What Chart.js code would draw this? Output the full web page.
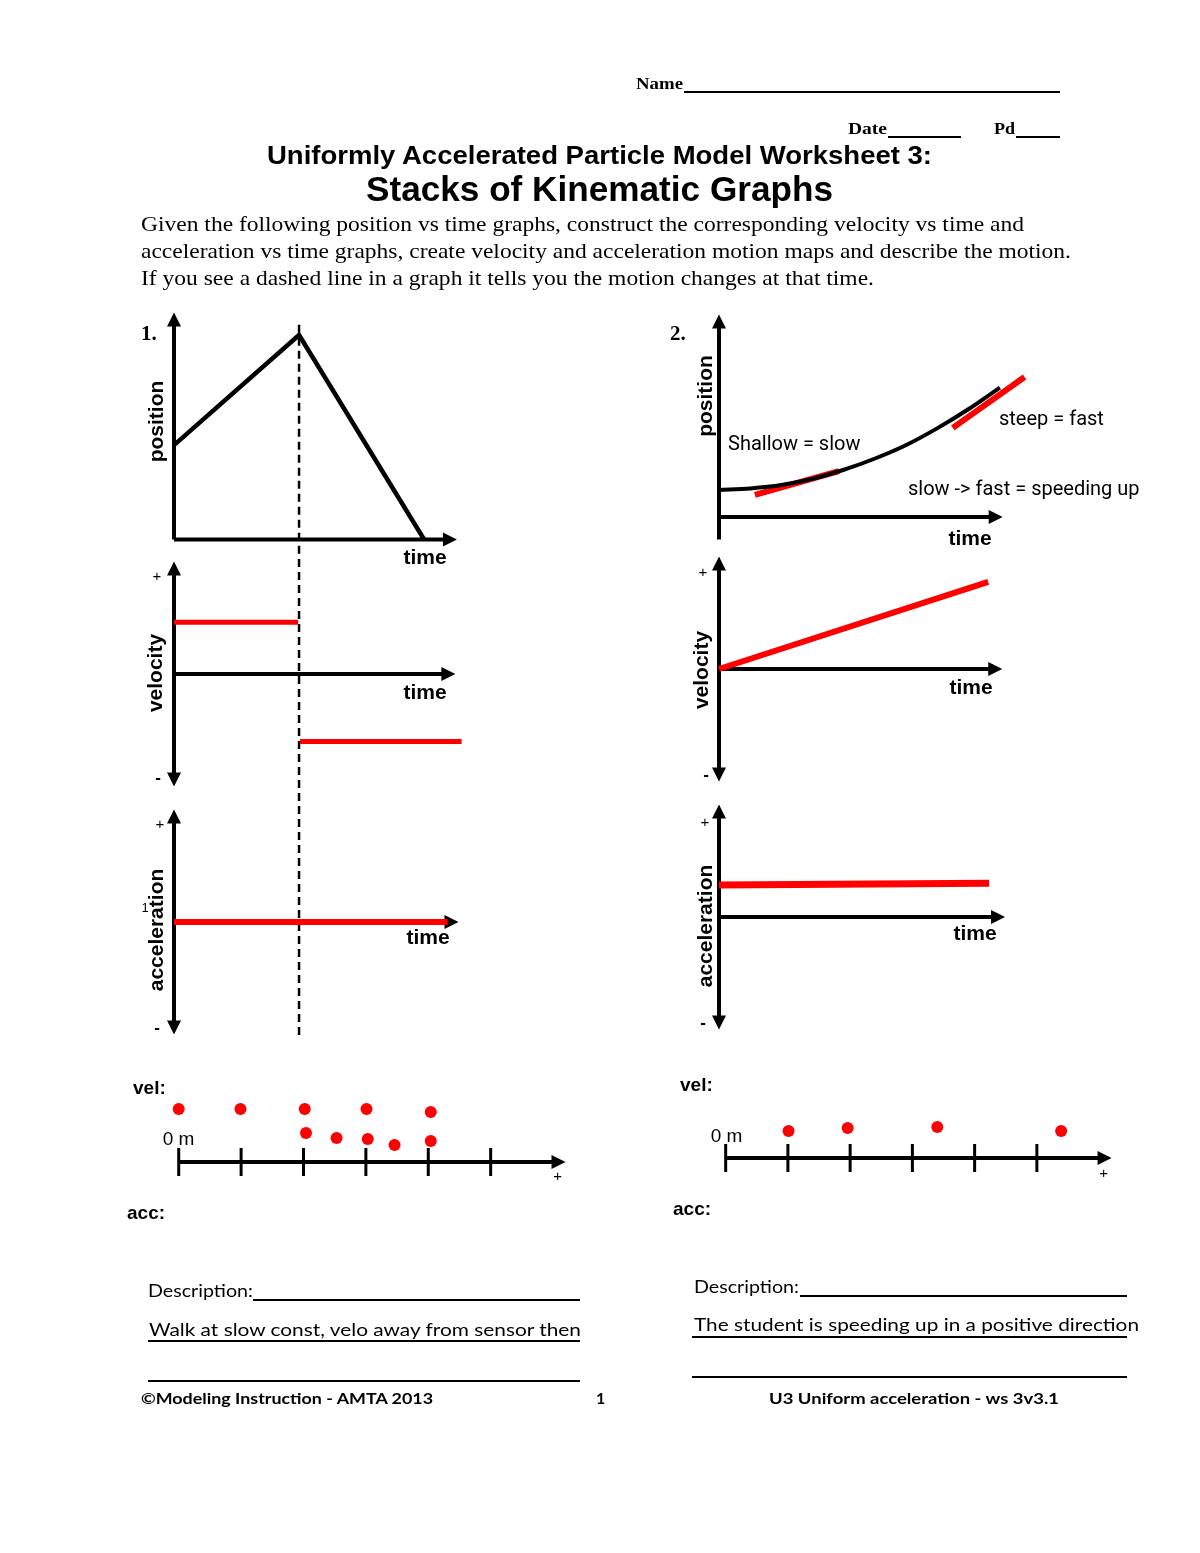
<!DOCTYPE html>
<html><head><meta charset="utf-8">
<script src="https://cdn.jsdelivr.net/npm/chart.js@4.4.1/dist/chart.umd.min.js"></script>
<style>
html,body{margin:0;padding:0;background:#fff;}
#page{position:relative;width:1200px;height:1553px;overflow:hidden;background:#fff;}
#page canvas{position:absolute;}
#txt{position:absolute;left:0;top:0;pointer-events:none;}
</style></head>
<body><div id="page">
<svg id="txt" width="1200" height="1553" xmlns="http://www.w3.org/2000/svg">
  <g font-family="'Liberation Serif', serif" font-weight="bold" font-size="16" fill="#000">
    <text x="636" y="89" textLength="47" lengthAdjust="spacingAndGlyphs">Name</text>
    <text x="848" y="134" textLength="39" lengthAdjust="spacingAndGlyphs">Date</text>
    <text x="994" y="134" textLength="21" lengthAdjust="spacingAndGlyphs">Pd</text>
  </g>
  <g stroke="#000" stroke-width="2">
    <line x1="684" y1="92" x2="1060" y2="92"/>
    <line x1="888" y1="137" x2="961" y2="137"/>
    <line x1="1016" y1="137" x2="1060" y2="137"/>
  </g>
  <g font-family="'Liberation Sans', Arial, sans-serif" font-weight="bold" fill="#000">
    <text x="267" y="164" font-size="25" textLength="665" lengthAdjust="spacingAndGlyphs">Uniformly Accelerated Particle Model Worksheet 3:</text>
    <text x="366" y="201" font-size="35" textLength="467" lengthAdjust="spacingAndGlyphs">Stacks of Kinematic Graphs</text>
  </g>
  <g font-family="'Liberation Serif', serif" font-size="21" fill="#000">
    <text x="141" y="231" textLength="883" lengthAdjust="spacingAndGlyphs">Given the following position vs time graphs, construct the corresponding velocity vs time and</text>
    <text x="141" y="258" textLength="930" lengthAdjust="spacingAndGlyphs">acceleration vs time graphs, create velocity and acceleration motion maps and describe the motion.</text>
    <text x="141" y="285" textLength="733" lengthAdjust="spacingAndGlyphs">If you see a dashed line in a graph it tells you the motion changes at that time.</text>
  </g>
  <g font-family="'Liberation Sans', Arial, sans-serif" font-weight="bold" font-size="19" fill="#000">
    <text x="133" y="1094">vel:</text>
    <text x="127" y="1219">acc:</text>
    <text x="680" y="1091">vel:</text>
    <text x="673" y="1215">acc:</text>
  </g>
  <g font-family="Lato, 'Open Sans', sans-serif" font-size="18" fill="#000">
    <text x="148" y="1297" textLength="105" lengthAdjust="spacingAndGlyphs">Description:</text>
    <text x="149" y="1336" textLength="432" lengthAdjust="spacingAndGlyphs">Walk at slow const, velo away from sensor then</text>
    <text x="694" y="1293" textLength="105" lengthAdjust="spacingAndGlyphs">Description:</text>
    <text x="694" y="1331" textLength="445" lengthAdjust="spacingAndGlyphs">The student is speeding up in a positive direction</text>
  </g>
  <g stroke="#000" stroke-width="2">
    <line x1="253" y1="1300" x2="580" y2="1300"/>
    <line x1="148" y1="1341" x2="580" y2="1341"/>
    <line x1="148" y1="1381" x2="580" y2="1381"/>
    <line x1="800" y1="1296" x2="1127" y2="1296"/>
    <line x1="692" y1="1337" x2="1127" y2="1337"/>
    <line x1="692" y1="1377" x2="1127" y2="1377"/>
  </g>
  <g font-family="Lato, 'Open Sans', sans-serif" font-weight="bold" font-size="16" fill="#000">
    <text x="141" y="1404" textLength="292" lengthAdjust="spacingAndGlyphs">©Modeling Instruction - AMTA 2013</text>
    <text x="596" y="1404">1</text>
    <text x="769" y="1404" textLength="290" lengthAdjust="spacingAndGlyphs">U3 Uniform acceleration -  ws 3v3.1</text>
  </g>
</svg>
</div>
<script>
// ---------------- DATA ----------------
// Graph 1 (position vs time, then derived velocity & acceleration)
const g1Time = [0, 4, 8];
const g1Position = [4.2, 9.1, 0];
const g1VelTimeA = [0, 3.97];
const g1VelA = [2.3, 2.3];
const g1VelTimeB = [4.03, 9.2];
const g1VelB = [-3.0, -3.0];
const g1AccTime = [0, 8.75];
const g1Acc = [0, 0];
const changeTime = 4;
// Motion map 1 (positions in m, row height of each dot)
const map1Pos = [0, 0.99, 2.02, 3.01, 4.04, 2.04, 2.53, 3.03, 3.46, 4.04];
const map1Row = [5.3, 5.3, 5.3, 5.3, 5.0, 2.9, 2.4, 2.3, 1.7, 2.1];
const mapTicks = [0, 1, 2, 3, 4, 5];
// Graph 2 (curved position, tangents, velocity & acceleration)
const g2Time = [0, 1, 2, 3, 4, 5, 6, 7, 8, 9];
const g2Position = [1.2, 1.27, 1.42, 1.7, 2.1, 2.6, 3.2, 3.95, 4.8, 5.75];
const g2SlowTanTime = [1.15, 3.84];
const g2SlowTanPos = [0.98, 2.04];
const g2FastTanTime = [7.49, 9.79];
const g2FastTanPos = [3.96, 6.22];
const g2VelTime = [0, 8.61];
const g2Vel = [0, 3.87];
const g2AccTime = [0, 8.64];
const g2Acc = [1.42, 1.5];
// Motion map 2
const map2Pos = [1.01, 1.96, 3.40, 5.39];
const map2Row = [2.7, 3.0, 3.1, 2.7];

// ---------------- HELPERS ----------------
const RED = '#ff0000', BLACK = '#000000';
const page = document.getElementById('page');
const svgEl = document.getElementById('txt');
const AX = "bold 21px 'Liberation Sans', Arial, sans-serif";
const PM = "15px 'Liberation Sans', Arial, sans-serif";
const MN = "bold 17px 'Liberation Sans', Arial, sans-serif";

function line(xs, ys, color, width, extra) {
  return Object.assign({
    data: xs.map((x, i) => ({x: x, y: ys[i]})),
    showLine: true, borderColor: color, borderWidth: width,
    pointRadius: 0, fill: false, tension: 0, clip: false, borderCapStyle: 'butt'
  }, extra || {});
}
function dots(xs, ys) {
  return {
    data: xs.map((x, i) => ({x: x, y: ys[i]})),
    showLine: false, pointRadius: 6, pointBackgroundColor: RED,
    pointBorderWidth: 0, pointStyle: 'circle', clip: false
  };
}

function arrowLine(ctx, p0, p1, a0, a1) {
  const L = 14, H = 7;
  const dx = p1[0] - p0[0], dy = p1[1] - p0[1];
  const len = Math.hypot(dx, dy), ux = dx / len, uy = dy / len;
  const s = a0 ? [p0[0] + ux * (L - 1), p0[1] + uy * (L - 1)] : p0;
  const e = a1 ? [p1[0] - ux * (L - 1), p1[1] - uy * (L - 1)] : p1;
  ctx.beginPath(); ctx.moveTo(s[0], s[1]); ctx.lineTo(e[0], e[1]); ctx.stroke();
  const head = (tip, vx, vy) => {
    ctx.beginPath();
    ctx.moveTo(tip[0], tip[1]);
    ctx.lineTo(tip[0] - vx * L - vy * H, tip[1] - vy * L + vx * H);
    ctx.lineTo(tip[0] - vx * L + vy * H, tip[1] - vy * L - vx * H);
    ctx.closePath(); ctx.fill();
  };
  if (a1) head(p1, ux, uy);
  if (a0) head(p0, -ux, -uy);
}

function decoPlugin(deco, canvasTop) {
  return {
    id: 'deco',
    beforeDatasetsDraw(chart) {
      const ctx = chart.ctx, xs = chart.scales.x, ys = chart.scales.y;
      const P = (x, y) => [xs.getPixelForValue(x), ys.getPixelForValue(y)];
      ctx.save();
      ctx.strokeStyle = BLACK; ctx.fillStyle = BLACK;
      if (deco.dashed) {
        const d = deco.dashed;
        const a = P(d.x, d.y1), b = P(d.x, d.y2);
        ctx.lineWidth = 2.5;
        ctx.setLineDash([8, 5]);
        ctx.lineDashOffset = (canvasTop + a[1]) % 13;
        ctx.beginPath(); ctx.moveTo(a[0], a[1]); ctx.lineTo(b[0], b[1]); ctx.stroke();
        ctx.setLineDash([]);
      }
      ctx.lineWidth = 4; ctx.lineCap = 'butt';
      (deco.axes || []).forEach(a => arrowLine(ctx, P(a.from[0], a.from[1]), P(a.to[0], a.to[1]), a.a0, a.a1));
      if (deco.ticks) {
        ctx.lineWidth = 3;
        deco.ticks.at.forEach(v => {
          const p = P(v, 0);
          ctx.beginPath(); ctx.moveTo(p[0], p[1] - deco.ticks.half); ctx.lineTo(p[0], p[1] + deco.ticks.half); ctx.stroke();
        });
      }
      ctx.restore();
    },
    afterDatasetsDraw(chart) {
      const ctx = chart.ctx, xs = chart.scales.x, ys = chart.scales.y;
      const ox = xs.getPixelForValue(0), oy = ys.getPixelForValue(0);
      ctx.save();
      ctx.fillStyle = BLACK;
      (deco.labels || []).forEach(l => {
        ctx.save();
        ctx.font = l.font;
        ctx.textAlign = l.align || 'center';
        ctx.textBaseline = l.base || 'alphabetic';
        ctx.translate(ox + l.dx, oy + l.dy);
        if (l.rot) ctx.rotate(-Math.PI / 2);
        ctx.fillText(l.text, 0, 0);
        ctx.restore();
      });
      ctx.restore();
    }
  };
}

function makeChart(geo, datasets, deco) {
  const pad = geo.pad || {left: 50, right: 40, top: 24, bottom: 36};
  const cw = (geo.xmax - geo.xmin) * geo.sx, ch = (geo.ymax - geo.ymin) * geo.sy;
  const canvas = document.createElement('canvas');
  const W = Math.round(cw + pad.left + pad.right), Hh = Math.round(ch + pad.top + pad.bottom);
  canvas.width = W; canvas.height = Hh;
  canvas.style.width = W + 'px'; canvas.style.height = Hh + 'px';
  const left = geo.ox + geo.xmin * geo.sx - pad.left;
  const top = geo.oy - geo.ymax * geo.sy - pad.top;
  canvas.style.left = left + 'px'; canvas.style.top = top + 'px';
  page.insertBefore(canvas, svgEl);
  return new Chart(canvas, {
    type: 'scatter',
    data: {datasets: datasets},
    options: {
      responsive: false, animation: false, events: [],
      layout: {padding: pad},
      plugins: {legend: {display: false}, tooltip: {enabled: false}, title: {display: false}},
      scales: {
        x: {type: 'linear', min: geo.xmin, max: geo.xmax, display: false},
        y: {type: 'linear', min: geo.ymin, max: geo.ymax, display: false}
      }
    },
    plugins: [decoPlugin(deco, top)]
  });
}

const SX = 31.25, SY = 22.5;
const PAD1 = {left: 50, right: 40, top: 24, bottom: 36};
const PAD2 = {left: 50, right: 170, top: 24, bottom: 36};

// ---------------- COLUMN 1 ----------------
makeChart({ox: 174, oy: 540, sx: SX, sy: SY, xmin: 0, xmax: 9.5, ymin: -0.6, ymax: 10.3, pad: PAD1},
  [line(g1Time, g1Position, BLACK, 4.5, {borderJoinStyle: 'miter'})],
  {
    dashed: {x: changeTime, y1: 9.78, y2: -0.7},
    axes: [{from: [0, 0], to: [0, 10.1], a1: true}, {from: [0, 0], to: [9.05, 0], a1: true}],
    labels: [
      {text: '1.', dx: -33, dy: -200, font: "bold 21px 'Liberation Serif', serif", align: 'left'},
      {text: 'position', dx: -11, dy: -118, font: AX, rot: true},
      {text: 'time', dx: 251, dy: 24, font: AX}
    ]
  });

makeChart({ox: 174, oy: 674, sx: SX, sy: SY, xmin: 0, xmax: 9.5, ymin: -5.2, ymax: 5.2, pad: PAD1},
  [line(g1VelTimeA, g1VelA, RED, 5), line(g1VelTimeB, g1VelB, RED, 5)],
  {
    dashed: {x: changeTime, y1: 5.26, y2: -5.76},
    axes: [{from: [0, -5], to: [0, 5], a0: true, a1: true}, {from: [0, 0], to: [9.0, 0], a1: true}],
    labels: [
      {text: '+', dx: -17, dy: -97, font: PM, base: 'middle'},
      {text: '-', dx: -16, dy: 104, font: MN, base: 'middle'},
      {text: 'velocity', dx: -12, dy: -1, font: AX, rot: true},
      {text: 'time', dx: 251, dy: 25, font: AX}
    ]
  });

makeChart({ox: 174, oy: 922, sx: SX, sy: SY, xmin: 0, xmax: 9.5, ymin: -5.2, ymax: 5.2, pad: PAD1},
  [line(g1AccTime, g1Acc, RED, 6)],
  {
    dashed: {x: changeTime, y1: 5.26, y2: -5.11},
    axes: [{from: [0, -5], to: [0, 5], a0: true, a1: true}, {from: [0, 0], to: [9.1, 0], a1: true}],
    labels: [
      {text: '+', dx: -14, dy: -97, font: PM, base: 'middle'},
      {text: '-', dx: -17, dy: 106, font: MN, base: 'middle'},
      {text: '1', dx: -29, dy: -14, font: "13px 'Liberation Sans', Arial, sans-serif", base: 'middle'},
      {text: 'acceleration', dx: -11, dy: 8, font: AX, rot: true},
      {text: 'time', dx: 254, dy: 22, font: AX}
    ]
  });

makeChart({ox: 179, oy: 1162, sx: 62.4, sy: 10, xmin: -0.3, xmax: 6.4, ymin: -2.5, ymax: 6.5,
    pad: {left: 30, right: 20, top: 10, bottom: 20}},
  [dots(map1Pos, map1Row)],
  {
    axes: [{from: [0, 0], to: [6.2, 0], a1: true}],
    ticks: {at: mapTicks, half: 14},
    labels: [
      {text: '0 m', dx: -16, dy: -17, font: "19px 'Liberation Sans', Arial, sans-serif", align: 'left'},
      {text: '+', dx: 379, dy: 15, font: PM, base: 'middle'}
    ]
  });

// ---------------- COLUMN 2 ----------------
makeChart({ox: 719, oy: 517, sx: SX, sy: SY, xmin: 0, xmax: 9.9, ymin: -1.2, ymax: 9.2, pad: PAD2},
  [
    line(g2Time, g2Position, BLACK, 4, {cubicInterpolationMode: 'monotone'}),
    line(g2SlowTanTime, g2SlowTanPos, RED, 6),
    line(g2FastTanTime, g2FastTanPos, RED, 6)
  ],
  {
    axes: [{from: [0, -1.0], to: [0, 9.0], a1: true}, {from: [0, 0], to: [9.09, 0], a1: true}],
    labels: [
      {text: '2.', dx: -49, dy: -177, font: "bold 21px 'Liberation Serif', serif", align: 'left'},
      {text: 'position', dx: -7, dy: -121, font: AX, rot: true},
      {text: 'time', dx: 251, dy: 28, font: AX},
      {text: 'Shallow = slow', dx: 9, dy: -67, font: "20px Roboto, sans-serif", align: 'left'},
      {text: 'steep = fast', dx: 280, dy: -92, font: "20px Roboto, sans-serif", align: 'left'},
      {text: 'slow -> fast = speeding up', dx: 189, dy: -22, font: "20px Roboto, sans-serif", align: 'left'}
    ]
  });

makeChart({ox: 719, oy: 669, sx: SX, sy: SY, xmin: 0, xmax: 9.5, ymin: -5.2, ymax: 5.2, pad: PAD1},
  [line(g2VelTime, g2Vel, RED, 6)],
  {
    axes: [{from: [0, -5], to: [0, 5], a0: true, a1: true}, {from: [0, 0], to: [9.06, 0], a1: true}],
    labels: [
      {text: '+', dx: -16, dy: -96, font: PM, base: 'middle'},
      {text: '-', dx: -13, dy: 106, font: MN, base: 'middle'},
      {text: 'velocity', dx: -11, dy: 1, font: AX, rot: true},
      {text: 'time', dx: 252, dy: 25, font: AX}
    ]
  });

makeChart({ox: 719, oy: 917, sx: SX, sy: SY, xmin: 0, xmax: 9.5, ymin: -5.2, ymax: 5.2, pad: PAD1},
  [line(g2AccTime, g2Acc, RED, 7)],
  {
    axes: [{from: [0, -5], to: [0, 5], a0: true, a1: true}, {from: [0, 0], to: [9.15, 0], a1: true}],
    labels: [
      {text: '+', dx: -14, dy: -94, font: PM, base: 'middle'},
      {text: '-', dx: -16, dy: 106, font: MN, base: 'middle'},
      {text: 'acceleration', dx: -7, dy: 9, font: AX, rot: true},
      {text: 'time', dx: 256, dy: 23, font: AX}
    ]
  });

makeChart({ox: 726, oy: 1158, sx: 62.3, sy: 10, xmin: -0.3, xmax: 6.4, ymin: -2.5, ymax: 6.5,
    pad: {left: 30, right: 20, top: 10, bottom: 20}},
  [dots(map2Pos, map2Row)],
  {
    axes: [{from: [0, 0], to: [6.2, 0], a1: true}],
    ticks: {at: mapTicks, half: 14},
    labels: [
      {text: '0 m', dx: -15, dy: -16, font: "19px 'Liberation Sans', Arial, sans-serif", align: 'left'},
      {text: '+', dx: 378, dy: 16, font: PM, base: 'middle'}
    ]
  });
</script>
</body></html>
